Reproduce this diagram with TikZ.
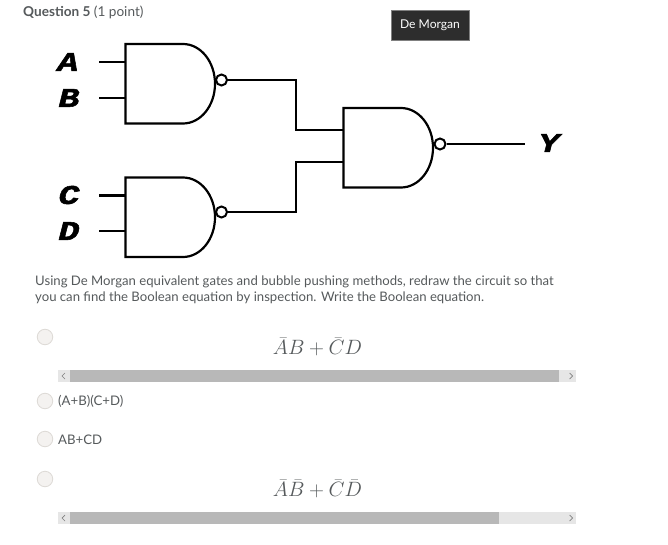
\documentclass[tikz,border=0pt]{standalone}
\usepackage{fontspec}
\usepackage{amsmath}
\setmainfont{Lato}
\newfontfamily\labfont[FakeStretch=1.3,FakeBold=2]{Liberation Mono Bold Italic}
\definecolor{txt}{HTML}{565A5C}
\definecolor{dark}{HTML}{2D2D2D}
\definecolor{thumb}{HTML}{B8B8B8}
\definecolor{track}{HTML}{E6E6E6}
\definecolor{radiofill}{HTML}{F4F2F0}
\definecolor{radioline}{HTML}{DDDAD6}
\tikzset{
  x=1pt,y=-1pt,
  wire/.style={line width=2.2pt,line cap=butt,line join=miter},
  gate/.style={line width=2.2pt,line join=miter},
  bubble/.style={circle,draw,line width=2pt,fill=white,minimum size=11pt,inner sep=0pt},
  pinlabel/.style={font=\labfont\fontsize{27}{27}\selectfont,inner sep=0pt},
  body/.style={font=\fontsize{13.15}{15}\selectfont,text=txt,inner sep=0pt,anchor=base west},
  option/.style={font=\fontsize{13.2}{15}\selectfont,text=txt,inner sep=0pt,anchor=base west},
  radio/.style={circle,draw=radioline,fill=radiofill,line width=.8pt,minimum size=15.5pt,inner sep=0pt},
  formula/.style={text=txt,inner sep=0pt,font=\fontsize{19.6}{22}\selectfont},
  chevron/.style={draw=gray,line width=.7pt}
}
\newcommand{\nandshape}[2]{% left x, top y
  \draw[gate,fill=white] (#1,#2) -- ++(57.5,0) arc[start angle=90,end angle=-90,x radius=32pt,y radius=39.75pt] -- ++(-57.5,0) -- cycle;
}
\begin{document}
\begin{tikzpicture}
\useasboundingbox (0,0) rectangle (668,545);
\fill[white] (0,0) rectangle (668,545);
\node[anchor=base west,inner sep=0pt,font=\fontsize{13.6}{15}\selectfont,text=txt] (q) at (23,17) {\textbf{Question 5} (1 point)};
\node[draw=gray,fill=dark,text=white,line width=.8pt,minimum width=78pt,minimum height=30pt,inner sep=0pt,font=\fontsize{12.1}{15}\selectfont] (dm) at (430,25) {De Morgan};
% gates
\nandshape{125.5}{44}
\nandshape{125.5}{177.5}
\nandshape{343.5}{108}
\node[bubble] (b1) at (221.5,80) {};
\node[bubble] (b2) at (221.5,212) {};
\node[bubble] (b3) at (440,144) {};
\coordinate (g1a) at (125.5,62);\coordinate (g1b) at (125.5,98);
\coordinate (g2a) at (125.5,195.5);\coordinate (g2b) at (125.5,231);
\coordinate (g3a) at (343.5,130);\coordinate (g3b) at (343.5,162);
\coordinate (ia) at (99,62);\coordinate (ib) at (99,98);
\coordinate (ic) at (99,195.5);\coordinate (id) at (99,231);
\coordinate (oy) at (525,144);
\draw[wire] (ia) -- (g1a);\draw[wire] (ib) -- (g1b);
\draw[wire] (ic) -- (g2a);\draw[wire] (id) -- (g2b);
\draw[wire] (b1) -| (296,130) -- (g3a);
\draw[wire] (b2) -| (296,162) -- (g3b);
\draw[wire] (b3) -- (oy);
\node[pinlabel] (A) at (68,62) {A};
\node[pinlabel] (B) at (69,98) {B};
\node[pinlabel] (C) at (69,195) {C};
\node[pinlabel] (D) at (69,231) {D};
\node[pinlabel] (Y) at (549,143) {Y};
% question
\node[body] (t1) at (35,285) {Using De Morgan equivalent gates and bubble pushing methods, redraw the circuit so that};
\node[body] (t2) at (35,301) {you can find the Boolean equation by inspection. Write the Boolean equation.};
% options
\node[radio] (r1) at (45,337) {};
\node[radio] (r2) at (45,401) {};
\node[radio] (r3) at (45,439) {};
\node[radio] (r4) at (45,479) {};
\node[formula] (f1) at (317.5,347) {$\bar{A}B+\bar{C}D$};
\node[formula] (f2) at (317.5,489) {$\bar{A}\bar{B}+\bar{C}\bar{D}$};
\node[option] (o2) at (58,405) {(A+B)(C+D)};
\node[option] (o3) at (58,444) {AB+CD};
% scrollbars
\fill[track] (58,370) rectangle (576,382);
\fill[thumb] (70,370) rectangle (559,382);
\fill[track] (58,512) rectangle (576,524);
\fill[thumb] (70,512) rectangle (499,524);
\foreach \yy in {376,518}{
  \draw[chevron] (65,\yy-3) -- (62,\yy) -- (65,\yy+3);
  \draw[chevron] (569.5,\yy-3) -- (572.5,\yy) -- (569.5,\yy+3);
}
\end{tikzpicture}
\end{document}
